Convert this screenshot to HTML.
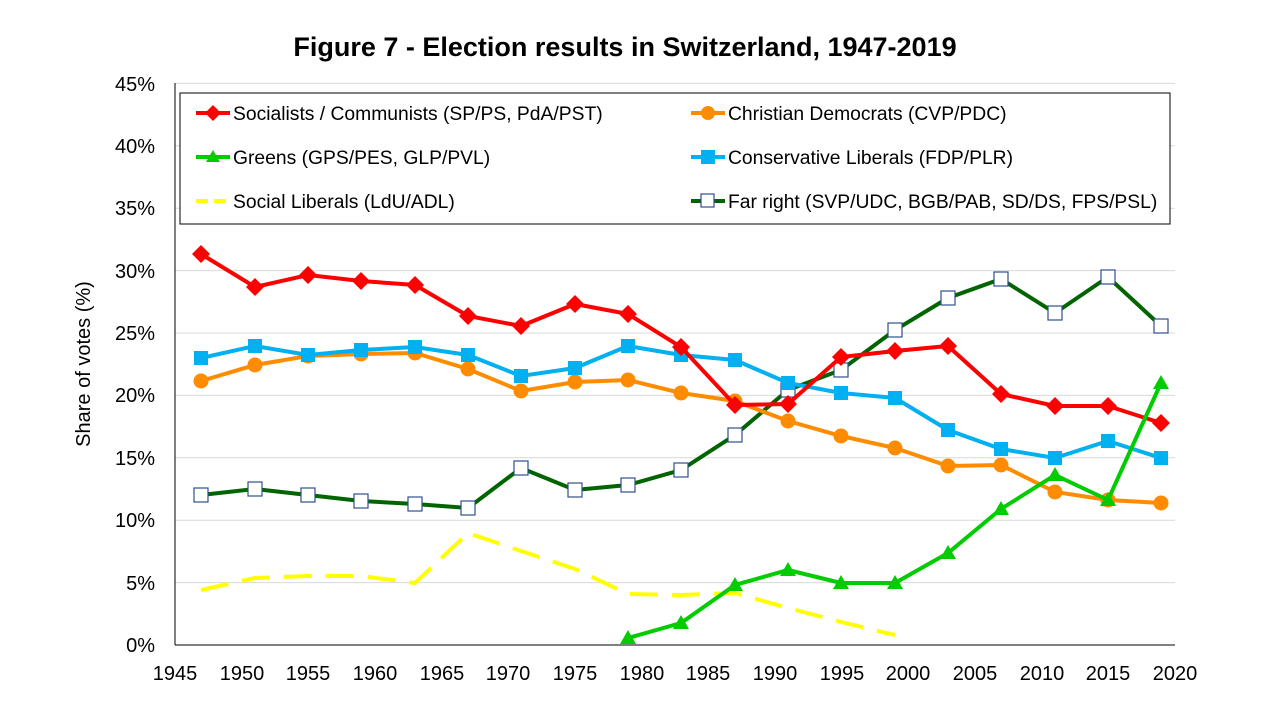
<!DOCTYPE html>
<html><head><meta charset="utf-8"><style>
html,body{margin:0;padding:0;background:#fff;}
svg{display:block;font-family:"Liberation Sans",Arial,sans-serif;}
</style></head><body>
<svg width="1280" height="720" viewBox="0 0 1280 720" xmlns="http://www.w3.org/2000/svg">
<text x="625" y="56" text-anchor="middle" font-size="27" font-weight="bold">Figure 7 - Election results in Switzerland, 1947-2019</text>
<g stroke="#d9d9d9" stroke-width="1">
<line x1="175" y1="582.6" x2="1175" y2="582.6"/><line x1="175" y1="520.2" x2="1175" y2="520.2"/>
<line x1="175" y1="457.8" x2="1175" y2="457.8"/><line x1="175" y1="395.4" x2="1175" y2="395.4"/>
<line x1="175" y1="333" x2="1175" y2="333"/><line x1="175" y1="270.6" x2="1175" y2="270.6"/>
<line x1="175" y1="208.2" x2="1175" y2="208.2"/><line x1="175" y1="145.8" x2="1175" y2="145.8"/>
<line x1="175" y1="83.4" x2="1175" y2="83.4"/>
</g>
<g stroke="#000" stroke-width="1">
<line x1="175" y1="83" x2="175" y2="645"/><line x1="175" y1="645" x2="1175" y2="645"/>
</g>
<g font-size="20" text-anchor="end">
<text x="155" y="652">0%</text><text x="155" y="590">5%</text><text x="155" y="527">10%</text>
<text x="155" y="465">15%</text><text x="155" y="402">20%</text><text x="155" y="340">25%</text>
<text x="155" y="278">30%</text><text x="155" y="215">35%</text><text x="155" y="153">40%</text>
<text x="155" y="91">45%</text>
</g>
<g font-size="20" text-anchor="middle">
<text x="175" y="680">1945</text><text x="242" y="680">1950</text><text x="308" y="680">1955</text>
<text x="375" y="680">1960</text><text x="442" y="680">1965</text><text x="508" y="680">1970</text>
<text x="575" y="680">1975</text><text x="642" y="680">1980</text><text x="708" y="680">1985</text>
<text x="775" y="680">1990</text><text x="842" y="680">1995</text><text x="908" y="680">2000</text>
<text x="975" y="680">2005</text><text x="1042" y="680">2010</text><text x="1108" y="680">2015</text>
<text x="1175" y="680">2020</text>
</g>
<text transform="translate(90,364) rotate(-90)" text-anchor="middle" font-size="20">Share of votes (%)</text>

<polyline fill="none" stroke="#ffff00" stroke-width="4" stroke-dasharray="28,14" points="201,590 255,578 308,576 361,576 415,583 468,533 521,551 575,569 628,594 681,595 735,593 788,608 841,622 895,635"/>
<polyline fill="none" stroke="#006400" stroke-width="4" points="201,495 255,489 308,495 361,501 415,504 468,508 521,468 575,490 628,485 681,470 735,435 788,390 841,370 895,330 948,298 1001,279 1055,313 1108,277 1161,326"/>
<g fill="#fff" stroke="#2f4f8f" stroke-width="1.2">
<rect x="194" y="488" width="14" height="14"/><rect x="248" y="482" width="14" height="14"/><rect x="301" y="488" width="14" height="14"/><rect x="354" y="494" width="14" height="14"/><rect x="408" y="497" width="14" height="14"/><rect x="461" y="501" width="14" height="14"/><rect x="514" y="461" width="14" height="14"/><rect x="568" y="483" width="14" height="14"/><rect x="621" y="478" width="14" height="14"/><rect x="674" y="463" width="14" height="14"/><rect x="728" y="428" width="14" height="14"/><rect x="781" y="383" width="14" height="14"/><rect x="834" y="363" width="14" height="14"/><rect x="888" y="323" width="14" height="14"/><rect x="941" y="291" width="14" height="14"/><rect x="994" y="272" width="14" height="14"/><rect x="1048" y="306" width="14" height="14"/><rect x="1101" y="270" width="14" height="14"/><rect x="1154" y="319" width="14" height="14"/>
</g>
<polyline fill="none" stroke="#ff8c00" stroke-width="4" points="201,381 255,365 308,356 361,354 415,353 468,369 521,391 575,382 628,380 681,393 735,401 788,421 841,436 895,448 948,466 1001,465 1055,492 1108,500 1161,503"/>
<g fill="#ff8c00">
<circle cx="201" cy="381" r="7.5"/><circle cx="255" cy="365" r="7.5"/><circle cx="308" cy="356" r="7.5"/><circle cx="361" cy="354" r="7.5"/><circle cx="415" cy="353" r="7.5"/><circle cx="468" cy="369" r="7.5"/><circle cx="521" cy="391" r="7.5"/><circle cx="575" cy="382" r="7.5"/><circle cx="628" cy="380" r="7.5"/><circle cx="681" cy="393" r="7.5"/><circle cx="735" cy="401" r="7.5"/><circle cx="788" cy="421" r="7.5"/><circle cx="841" cy="436" r="7.5"/><circle cx="895" cy="448" r="7.5"/><circle cx="948" cy="466" r="7.5"/><circle cx="1001" cy="465" r="7.5"/><circle cx="1055" cy="492" r="7.5"/><circle cx="1108" cy="500" r="7.5"/><circle cx="1161" cy="503" r="7.5"/>
</g>
<polyline fill="none" stroke="#00b0f0" stroke-width="4" points="201,358 255,346 308,355 361,350 415,347 468,355 521,376 575,368 628,346 681,355 735,360 788,383 841,393 895,398 948,430 1001,449 1055,458 1108,441 1161,458"/>
<g fill="#00b0f0">
<rect x="194" y="351" width="14" height="14"/><rect x="248" y="339" width="14" height="14"/><rect x="301" y="348" width="14" height="14"/><rect x="354" y="343" width="14" height="14"/><rect x="408" y="340" width="14" height="14"/><rect x="461" y="348" width="14" height="14"/><rect x="514" y="369" width="14" height="14"/><rect x="568" y="361" width="14" height="14"/><rect x="621" y="339" width="14" height="14"/><rect x="674" y="348" width="14" height="14"/><rect x="728" y="353" width="14" height="14"/><rect x="781" y="376" width="14" height="14"/><rect x="834" y="386" width="14" height="14"/><rect x="888" y="391" width="14" height="14"/><rect x="941" y="423" width="14" height="14"/><rect x="994" y="442" width="14" height="14"/><rect x="1048" y="451" width="14" height="14"/><rect x="1101" y="434" width="14" height="14"/><rect x="1154" y="451" width="14" height="14"/>
</g>
<polyline fill="none" stroke="#ff0000" stroke-width="4" points="201,254 255,287 308,275 361,281 415,285 468,316 521,326 575,304 628,314 681,347 735,405 788,404 841,357 895,351 948,346 1001,394 1055,406 1108,406 1161,423"/>
<g fill="#ff0000">
<polygon points="201,245 210,254 201,263 192,254"/><polygon points="255,278 264,287 255,296 246,287"/><polygon points="308,266 317,275 308,284 299,275"/><polygon points="361,272 370,281 361,290 352,281"/><polygon points="415,276 424,285 415,294 406,285"/><polygon points="468,307 477,316 468,325 459,316"/><polygon points="521,317 530,326 521,335 512,326"/><polygon points="575,295 584,304 575,313 566,304"/><polygon points="628,305 637,314 628,323 619,314"/><polygon points="681,338 690,347 681,356 672,347"/><polygon points="735,396 744,405 735,414 726,405"/><polygon points="788,395 797,404 788,413 779,404"/><polygon points="841,348 850,357 841,366 832,357"/><polygon points="895,342 904,351 895,360 886,351"/><polygon points="948,337 957,346 948,355 939,346"/><polygon points="1001,385 1010,394 1001,403 992,394"/><polygon points="1055,397 1064,406 1055,415 1046,406"/><polygon points="1108,397 1117,406 1108,415 1099,406"/><polygon points="1161,414 1170,423 1161,432 1152,423"/>
</g>
<polyline fill="none" stroke="#00cc00" stroke-width="4" points="628,638 681,623 735,585 788,570 841,583 895,583 948,553 1001,509 1055,475 1108,500 1161,383"/>
<g fill="#00cc00">
<polygon points="628,630 636,644 620,644"/><polygon points="681,615 689,629 673,629"/><polygon points="735,577 743,591 727,591"/><polygon points="788,562 796,576 780,576"/><polygon points="841,575 849,589 833,589"/><polygon points="895,575 903,589 887,589"/><polygon points="948,545 956,559 940,559"/><polygon points="1001,501 1009,515 993,515"/><polygon points="1055,467 1063,481 1047,481"/><polygon points="1108,492 1116,506 1100,506"/><polygon points="1161,375 1169,389 1153,389"/>
</g>

<rect x="180" y="93" width="990" height="131" fill="#fff" stroke="#000" stroke-width="1"/>
<g font-size="19.3">
<line x1="196" y1="113" x2="230" y2="113" stroke="#ff0000" stroke-width="4"/><polygon points="213,105 221,113 213,121 205,113" fill="#ff0000"/>
<text x="233" y="120">Socialists / Communists (SP/PS, PdA/PST)</text>
<line x1="196" y1="157" x2="230" y2="157" stroke="#00cc00" stroke-width="4"/><polygon points="213,150 220,162 206,162" fill="#00cc00"/>
<text x="233" y="164">Greens (GPS/PES, GLP/PVL)</text>
<line x1="196" y1="201" x2="230" y2="201" stroke="#ffff00" stroke-width="4" stroke-dasharray="12,6"/>
<text x="233" y="208">Social Liberals (LdU/ADL)</text>
<line x1="691" y1="113" x2="725" y2="113" stroke="#ff8c00" stroke-width="4"/><circle cx="708" cy="113" r="7" fill="#ff8c00"/>
<text x="728" y="120">Christian Democrats (CVP/PDC)</text>
<line x1="691" y1="157" x2="725" y2="157" stroke="#00b0f0" stroke-width="4"/><rect x="701" y="150" width="14" height="14" fill="#00b0f0"/>
<text x="728" y="164">Conservative Liberals (FDP/PLR)</text>
<line x1="691" y1="201" x2="725" y2="201" stroke="#006400" stroke-width="4"/><rect x="701" y="194" width="13" height="13" fill="#fff" stroke="#2f4f8f" stroke-width="1.2"/>
<text x="728" y="208">Far right (SVP/UDC, BGB/PAB, SD/DS, FPS/PSL)</text>
</g>
</svg>
</body></html>
